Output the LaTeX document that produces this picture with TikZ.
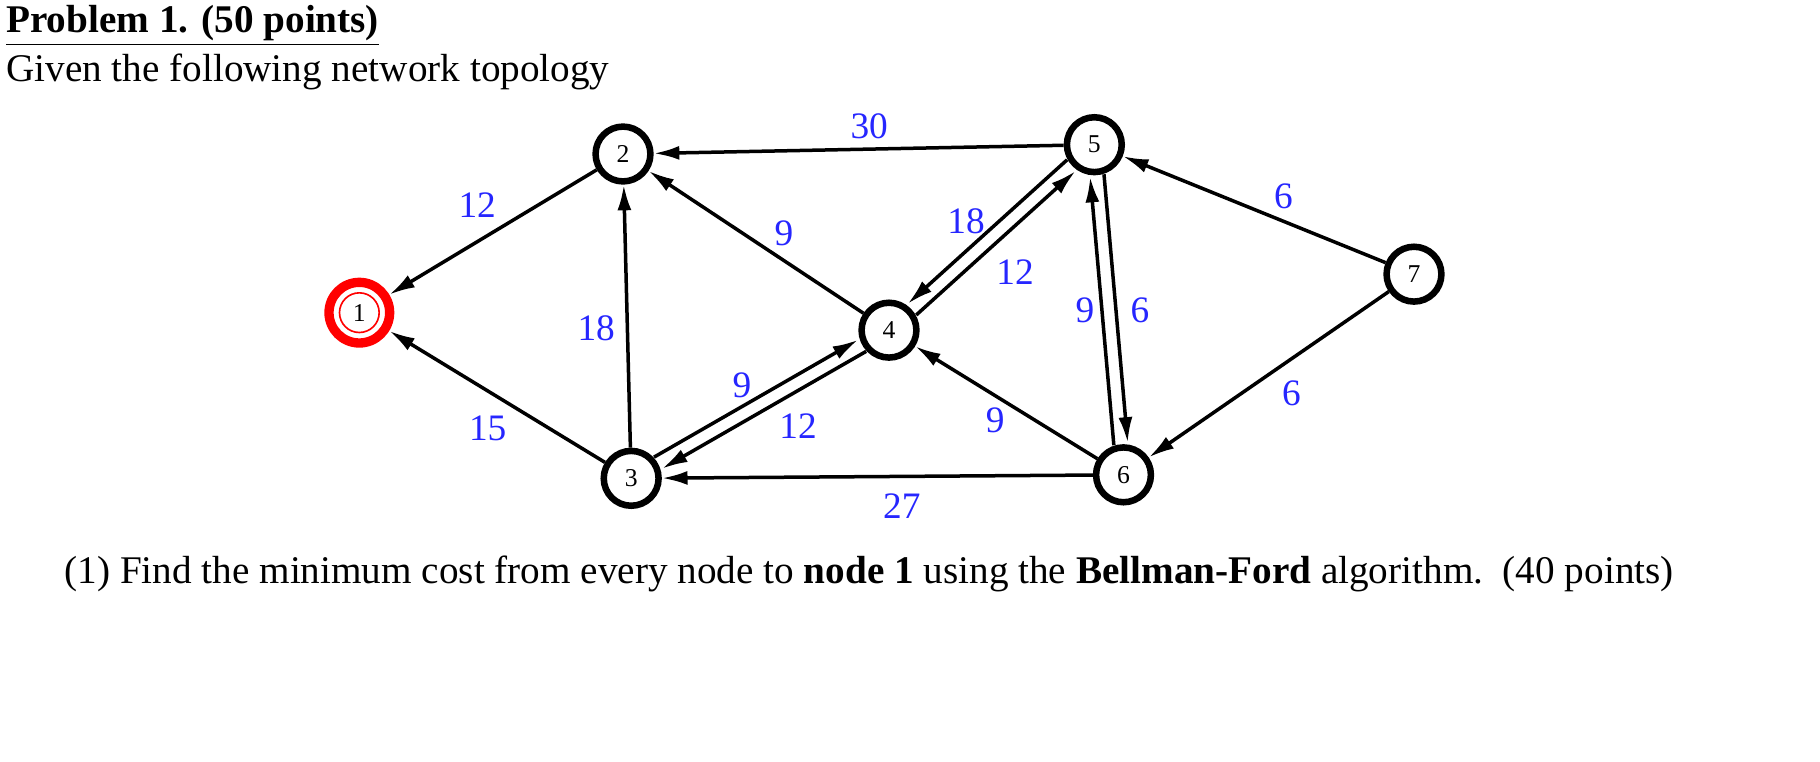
\documentclass[tikz,border=0pt]{standalone}
\usepackage{fontspec}
\setmainfont{Liberation Serif}
\usetikzlibrary{arrows.meta,calc}
\begin{document}
\begin{tikzpicture}[x=0.5pt,y=-0.5pt,
  nd/.style={circle,draw,line width=2.8pt,minimum size=23.5pt,inner sep=0pt,fill=white,font=\fontsize{11}{12}\selectfont},
  ed/.style={line width=1.5pt,-{Latex[length=11pt,width=6pt]}},
  pe/.style={ed,shorten <=13pt,shorten >=13.5pt},
  lb/.style={text=blue!85!white,font=\fontsize{16}{18}\selectfont,inner sep=0pt},
  tx/.style={anchor=base west,inner sep=0pt,font=\fontsize{16.8}{20}\selectfont}]
\useasboundingbox (0,0) rectangle (1560,653);
\node[tx,font=\fontsize{16.8}{20}\selectfont\bfseries] (t) at (5,28) {\underline{Problem 1. (50 points)}};
\node[tx] (g) at (5,70) {Given the following network topology};
\node[tx] (q) at (55,500) {(1) Find the minimum cost from every node to \textbf{node 1} using the \textbf{Bellman-Ford} algorithm.\ \ (40 points)};
\node[nd,draw=red,line width=4pt,minimum size=26pt] (n1) at (308,268) {};
\draw[red,line width=0.7pt] (n1.center) circle (8.5pt);
\node[font=\fontsize{11}{12}\selectfont] (l1) at (n1.center) {1};
\node[nd] (n2) at (534,132) {2};
\node[nd] (n3) at (541,410) {3};
\node[nd] (n4) at (762,283) {4};
\node[nd] (n5) at (938,124) {5};
\node[nd] (n6) at (963,407) {6};
\node[nd] (n7) at (1212,235) {7};
\draw[ed] (n2) -- (n1);
\draw[ed] (n3) -- (n1);
\draw[ed] (n3) -- (n2);
\draw[ed] (n4) -- (n2);
\draw[ed] (n5) -- (n2);
\draw[ed] (n6) -- (n4);
\draw[ed] (n6) -- (n3);
\draw[ed] (n7) -- (n5);
\draw[ed] (n7) -- (n6);
\draw[pe] ($(n5.center)!3pt!-90:(n4.center)$) -- ($(n4.center)!3pt!90:(n5.center)$);
\draw[pe] ($(n4.center)!3pt!-90:(n5.center)$) -- ($(n5.center)!3pt!90:(n4.center)$);
\draw[pe] ($(n3.center)!3pt!90:(n4.center)$) -- ($(n4.center)!3pt!-90:(n3.center)$);
\draw[pe] ($(n4.center)!3pt!90:(n3.center)$) -- ($(n3.center)!3pt!-90:(n4.center)$);
\draw[pe] ($(n6.center)!3pt!90:(n5.center)$) -- ($(n5.center)!3pt!-90:(n6.center)$);
\draw[pe] ($(n5.center)!3pt!90:(n6.center)$) -- ($(n6.center)!3pt!-90:(n5.center)$);
\node[lb] (w1) at (745,108) {30};
\node[lb] (w2) at (409,176) {12};
\node[lb] (w3) at (672,200) {9};
\node[lb] (w4) at (828,190) {18};
\node[lb] (w5) at (870,233) {12};
\node[lb] (w6) at (1100,168) {6};
\node[lb] (w7) at (511,281) {18};
\node[lb] (w8) at (930,266) {9};
\node[lb] (w9) at (977,266) {6};
\node[lb] (w10) at (636,330) {9};
\node[lb] (w11) at (684,365) {12};
\node[lb] (w12) at (418,367) {15};
\node[lb] (w13) at (853,360) {9};
\node[lb] (w14) at (1107,337) {6};
\node[lb] (w15) at (773,434) {27};
\end{tikzpicture}
\end{document}
